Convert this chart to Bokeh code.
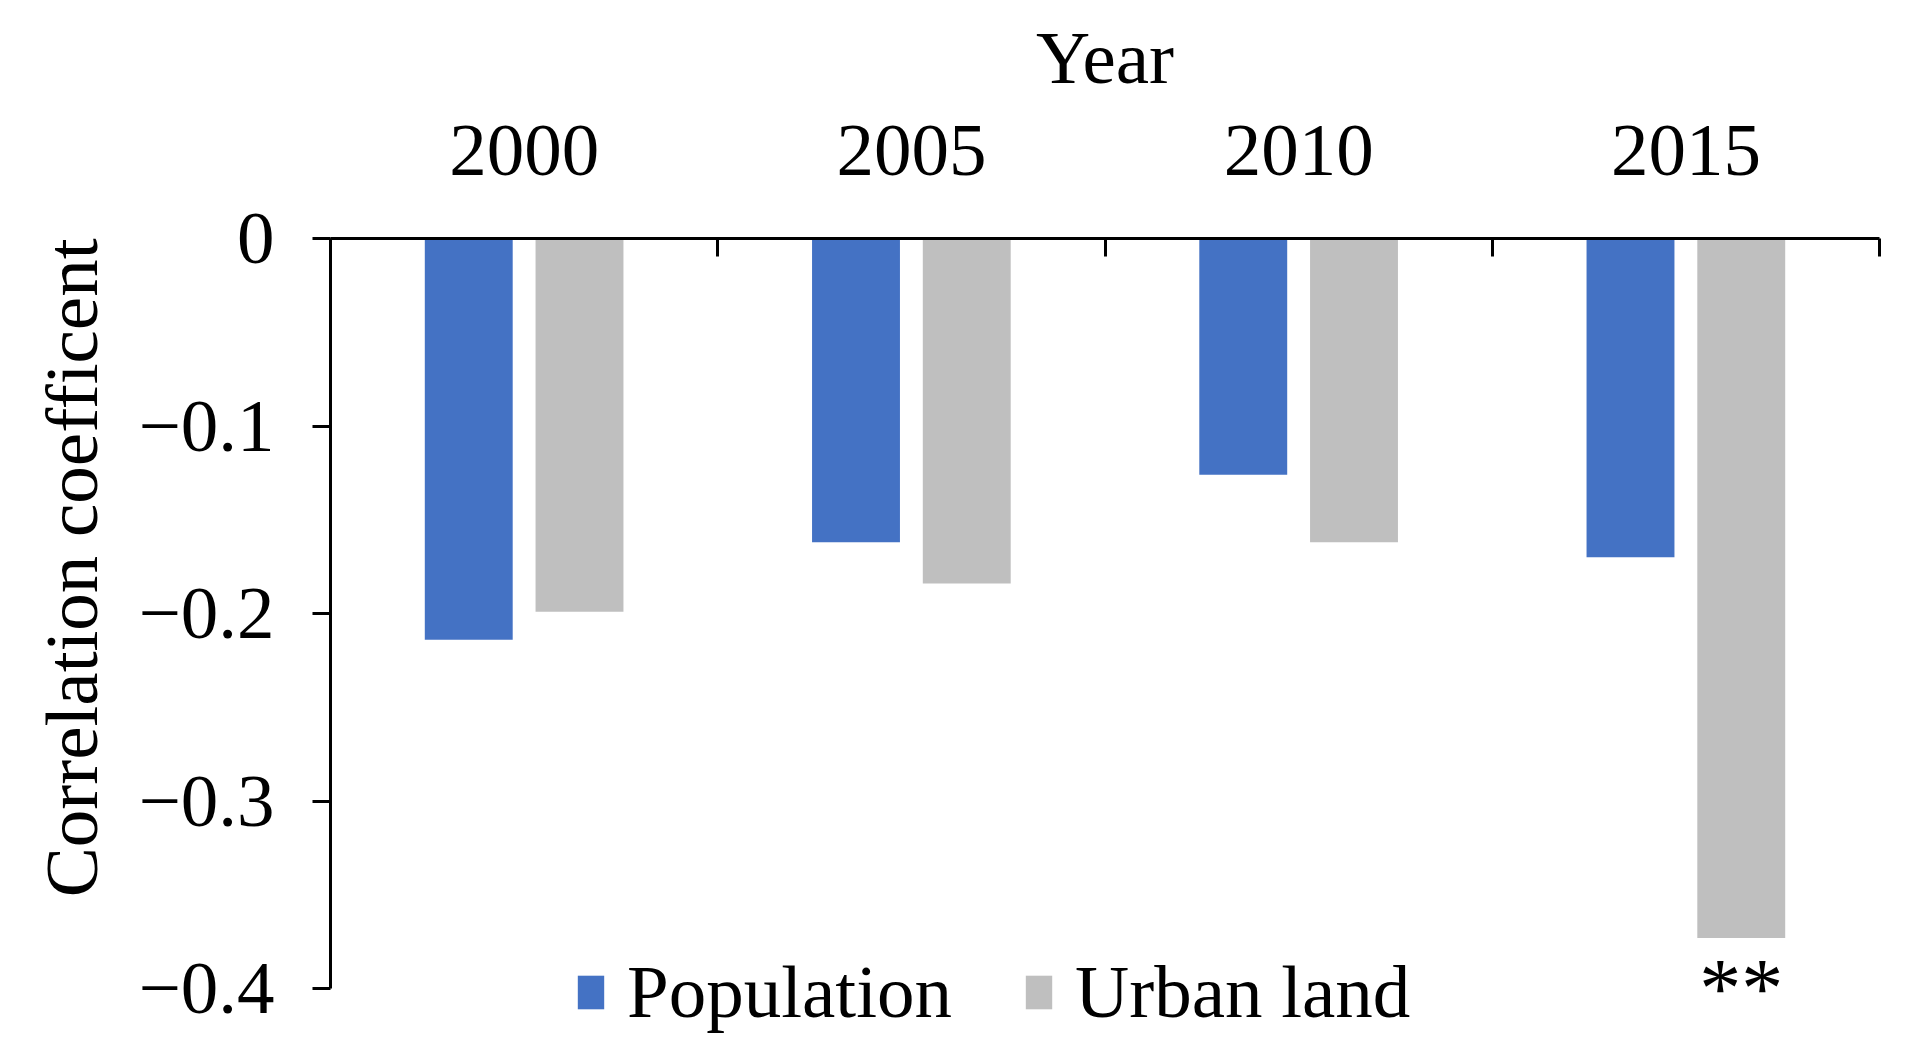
from bokeh.plotting import figure
from bokeh.models import (Range1d, FixedTicker, Legend, LegendItem, ColumnDataSource,
                          Title)
from bokeh.core.properties import value
from bokeh.embed import file_html
from bokeh.resources import INLINE
import numpy as np

# ---- data ----
years = ["2000", "2005", "2010", "2015"]
population = [-0.214, -0.162, -0.126, -0.170]
urban_land = [-0.199, -0.184, -0.162, -0.373]
significance = ["", "", "", "**"]
y_ticks = [0, -0.1, -0.2, -0.3, -0.4]
y_tick_labels = ["0", "−0.1", "−0.2", "−0.3", "−0.4"]

FONT = "Liberation Serif"
FS = "75px"
BLUE = "#4472C4"
GREY = "#BFBFBF"

frame_w = 1549
frame_h = 795
px_per_unit = 750 / 0.4
y_start = -frame_h / px_per_unit

p = figure(output_backend="svg", toolbar_location=None,
           frame_width=frame_w, frame_height=frame_h,
           x_range=Range1d(0, len(years)), y_range=Range1d(y_start, 0),
           x_axis_location="above",
           min_border_left=330, min_border_right=26, min_border_top=238,
           min_border_bottom=5)
p.grid.visible = False
p.outline_line_color = None
p.background_fill_color = "white"

idx = np.arange(len(years)) + 0.5
off = 0.143
bw = 0.227
src = ColumnDataSource(dict(x_pop=idx - off, x_urb=idx + off,
                            pop=population, urb=urban_land, sig=significance))
r1 = p.vbar(x="x_pop", top=0, bottom="pop", width=bw, source=src,
            fill_color=BLUE, line_color=None)
r2 = p.vbar(x="x_urb", top=0, bottom="urb", width=bw, source=src,
            fill_color=GREY, line_color=None)
p.text(x="x_urb", y="urb", text="sig", source=src, text_font=value(FONT),
       text_font_size="84px", text_align="center", text_baseline="top",
       y_offset=4, text_color="black")

# x axis (top)
xa = p.xaxis[0]
xa.ticker = FixedTicker(ticks=list(idx), minor_ticks=list(range(len(years) + 1)))
xa.major_label_overrides = {float(t): y for t, y in zip(idx, years)}
xa.major_tick_in = 0
xa.major_tick_out = 0
xa.minor_tick_in = 18
xa.minor_tick_out = 0
xa.minor_tick_line_color = "black"
xa.minor_tick_line_width = 3
xa.axis_line_color = "black"
xa.axis_line_width = 3
xa.major_label_text_font = FONT
xa.major_label_text_font_size = FS
xa.major_label_text_color = "black"
xa.major_label_standoff = 64
xa.axis_label = "Year"
xa.axis_label_text_font = FONT
xa.axis_label_text_font_size = FS
xa.axis_label_text_font_style = "normal"
xa.axis_label_text_color = "black"
xa.axis_label_standoff = 24

# y axis
ya = p.yaxis[0]
ya.ticker = FixedTicker(ticks=y_ticks)
ya.major_label_overrides = {float(t): l for t, l in zip(y_ticks, y_tick_labels)}
ya.bounds = (-0.4, 0)
ya.major_tick_in = 0
ya.major_tick_out = 18
ya.major_tick_line_width = 3
ya.minor_tick_line_color = None
ya.axis_line_width = 3
ya.major_label_text_font = FONT
ya.major_label_text_font_size = FS
ya.major_label_text_color = "black"
ya.major_label_standoff = 38

p.add_layout(Title(text="Correlation coefficent", text_font=FONT, text_font_size=FS,
                   text_font_style="normal", text_color="black", align="right",
                   offset=0, standoff=46), "left")

legend = Legend(items=[LegendItem(label="Population", renderers=[r1]),
                       LegendItem(label="Urban land", renderers=[r2])],
                orientation="horizontal", location=(244, -2),
                label_text_font=FONT, label_text_font_size=FS,
                label_text_color="black",
                glyph_width=33, glyph_height=42, label_standoff=20, spacing=70,
                padding=0, margin=0, border_line_color=None,
                background_fill_alpha=0)
p.add_layout(legend, "center")

open("out.html", "w").write(file_html(p, INLINE))
